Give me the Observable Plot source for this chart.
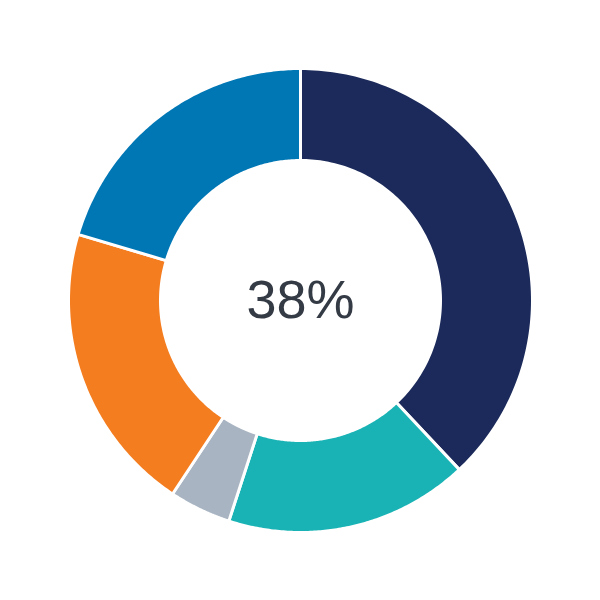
<!DOCTYPE html>
<html>
<head>
<meta charset="utf-8">
<script src="https://cdn.jsdelivr.net/npm/d3@7"></script>
<script src="https://cdn.jsdelivr.net/npm/@observablehq/plot@0.6"></script>
<style>
  html, body { margin: 0; padding: 0; background: #fff; }
</style>
</head>
<body>
<div id="chart"></div>
<script>
const categories = ["A", "B", "C", "D", "E"];
const values = [38, 17, 4.3, 20.3, 20.4];
const colors = ["#1b2a5a", "#1ab3b5", "#a9b4c2", "#f47d20", "#0077b5"];
const centerLabel = "38%";

const outerR = 232, innerR = 140;

const pie = d3.pie().sort(null).value(d => d)(values);

const slices = pie.map((p, i) => {
  const pts = [];
  const n = 120;
  for (let k = 0; k <= n; k++) {
    const a = p.startAngle + (p.endAngle - p.startAngle) * k / n;
    pts.push({x: outerR * Math.sin(a), y: outerR * Math.cos(a)});
  }
  for (let k = n; k >= 0; k--) {
    const a = p.startAngle + (p.endAngle - p.startAngle) * k / n;
    pts.push({x: innerR * Math.sin(a), y: innerR * Math.cos(a)});
  }
  pts.push(pts[0]);
  return {cat: categories[i], color: colors[i], pts};
});

const chart = Plot.plot({
  width: 600,
  height: 600,
  margin: 0,
  x: {domain: [-300, 300], axis: null},
  y: {domain: [-300, 300], axis: null},
  marks: [
    ...slices.map(s => Plot.line(s.pts, {
      x: "x", y: "y", fill: s.color, stroke: "white", strokeWidth: 3, curve: "linear"
    })),
    Plot.text([{x: 0, y: 0, t: centerLabel}], {
      x: "x", y: "y", text: "t", fontSize: 54, fill: "#343b45",
      fontFamily: "Liberation Sans, Arial, sans-serif", textAnchor: "middle"
    })
  ]
});
document.getElementById("chart").appendChild(chart);
</script>
</body>
</html>
